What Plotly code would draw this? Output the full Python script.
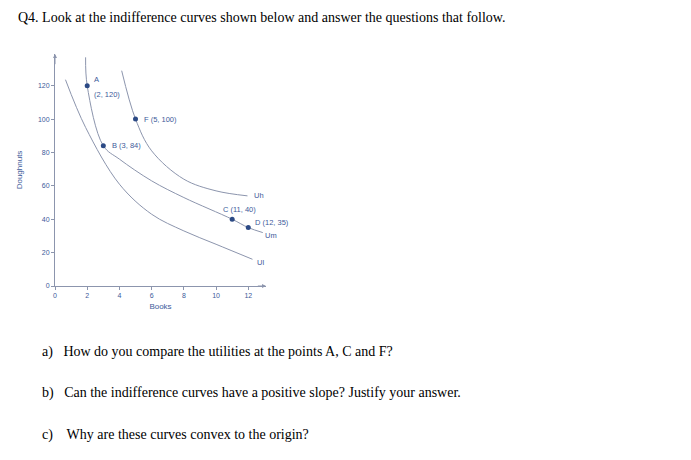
import plotly.graph_objects as go

# indifference curves (books, doughnuts)
ul_x = [0.65, 1.9, 4, 6, 8, 10, 12.26]
ul_y = [123.6, 95, 61, 43, 33, 25, 16]
um_x = [1.9, 2, 3, 4, 6, 8, 11, 12, 12.9]
um_y = [137, 120, 84, 76, 63, 53, 40, 35, 32]
uh_x = [4.14, 5, 6, 8, 10, 11.95]
uh_y = [129, 100, 81, 64, 57, 54]

pt_names = ["A", "B", "F", "C", "D"]
pt_x = [2, 3, 5, 11, 12]
pt_y = [120, 84, 100, 40, 35]

x_ticks = [0, 2, 4, 6, 8, 10, 12]
y_ticks = [0, 20, 40, 60, 80, 100, 120]

blue = "#3d5a9a"
line_col = "#8c95ad"

L, R, T, B = 47, 433, 46, 182
pw, ph = 691 - L - R, 460 - T - B

fig = go.Figure()
for xs, ys in [(ul_x, ul_y), (um_x, um_y), (uh_x, uh_y)]:
    fig.add_trace(go.Scatter(x=xs, y=ys, mode="lines", line=dict(color=line_col, width=1, shape="spline"),
                             showlegend=False, hoverinfo="skip"))
fig.add_trace(go.Scatter(x=pt_x, y=pt_y, mode="markers", marker=dict(color="#2c4a85", size=5),
                         showlegend=False))

lab_font = dict(family="Liberation Sans", size=7.5, color=blue)
labels = [
    (2.3, 124, "A"), (2.3, 115, "(2, 120)"), (3.4, 84, "B (3, 84)"), (5.4, 100, "F (5, 100)"),
    (10.3, 46, "C (11, 40)"), (12.3, 38, "D (12, 35)"), (12.2, 54, "Uh"), (12.9, 30, "Um"), (12.4, 14, "Ul"),
]
for x, y, t in labels:
    fig.add_annotation(x=x, y=y, text=t, showarrow=False, xanchor="left", font=lab_font)

# axis arrows
fig.add_annotation(x=13.1, y=0, ax=12.5, ay=0, axref="x", ayref="y", text="", showarrow=True,
                   arrowhead=2, arrowsize=0.8, arrowwidth=1, arrowcolor=line_col)
fig.add_annotation(x=0, y=139, ax=0, ay=132, axref="x", ayref="y", text="", showarrow=True,
                   arrowhead=2, arrowsize=0.8, arrowwidth=1, arrowcolor=line_col)


def px(x, y):
    return (x - L) / pw, (460 - B - y) / ph


serif = dict(family="Liberation Serif", size=14, color="black")
tx, ty = px(8, 0)
fig.add_annotation(xref="paper", yref="paper", x=tx, y=ty, xanchor="left", showarrow=False,
                   text="Q4. Look at the indifference curves shown below and answer the questions that follow.", font=serif)
qs = [(354, "a)   How do you compare the utilities at the points A, C and F?"),
      (395, "b)   Can the indifference curves have a positive slope? Justify your answer."),
      (437, "c)    Why are these curves convex to the origin?")]
for py, t in qs:
    qx, qy = px(32, py)
    fig.add_annotation(xref="paper", yref="paper", x=qx, y=qy, xanchor="left", showarrow=False, text=t, font=serif)

ax_common = dict(showgrid=False, zeroline=False, showline=True, linecolor=line_col, linewidth=1, automargin=False,
                 ticks="outside", ticklen=3, tickcolor=line_col, tickfont=dict(family="Liberation Sans", size=7, color=blue))
fig.update_xaxes(range=[0, 13.1], tickvals=x_ticks, title=dict(text="Books", font=dict(family="Liberation Sans", size=8, color=blue), standoff=4), **ax_common)
fig.update_yaxes(range=[0, 139], tickvals=y_ticks, title=dict(text="Doughnuts", font=dict(family="Liberation Sans", size=8, color=blue), standoff=14), **ax_common)
fig.update_layout(width=691, height=460, margin=dict(l=L, r=R, t=T, b=B),
                  plot_bgcolor="white", paper_bgcolor="white")
fig.write_html("out.html")
